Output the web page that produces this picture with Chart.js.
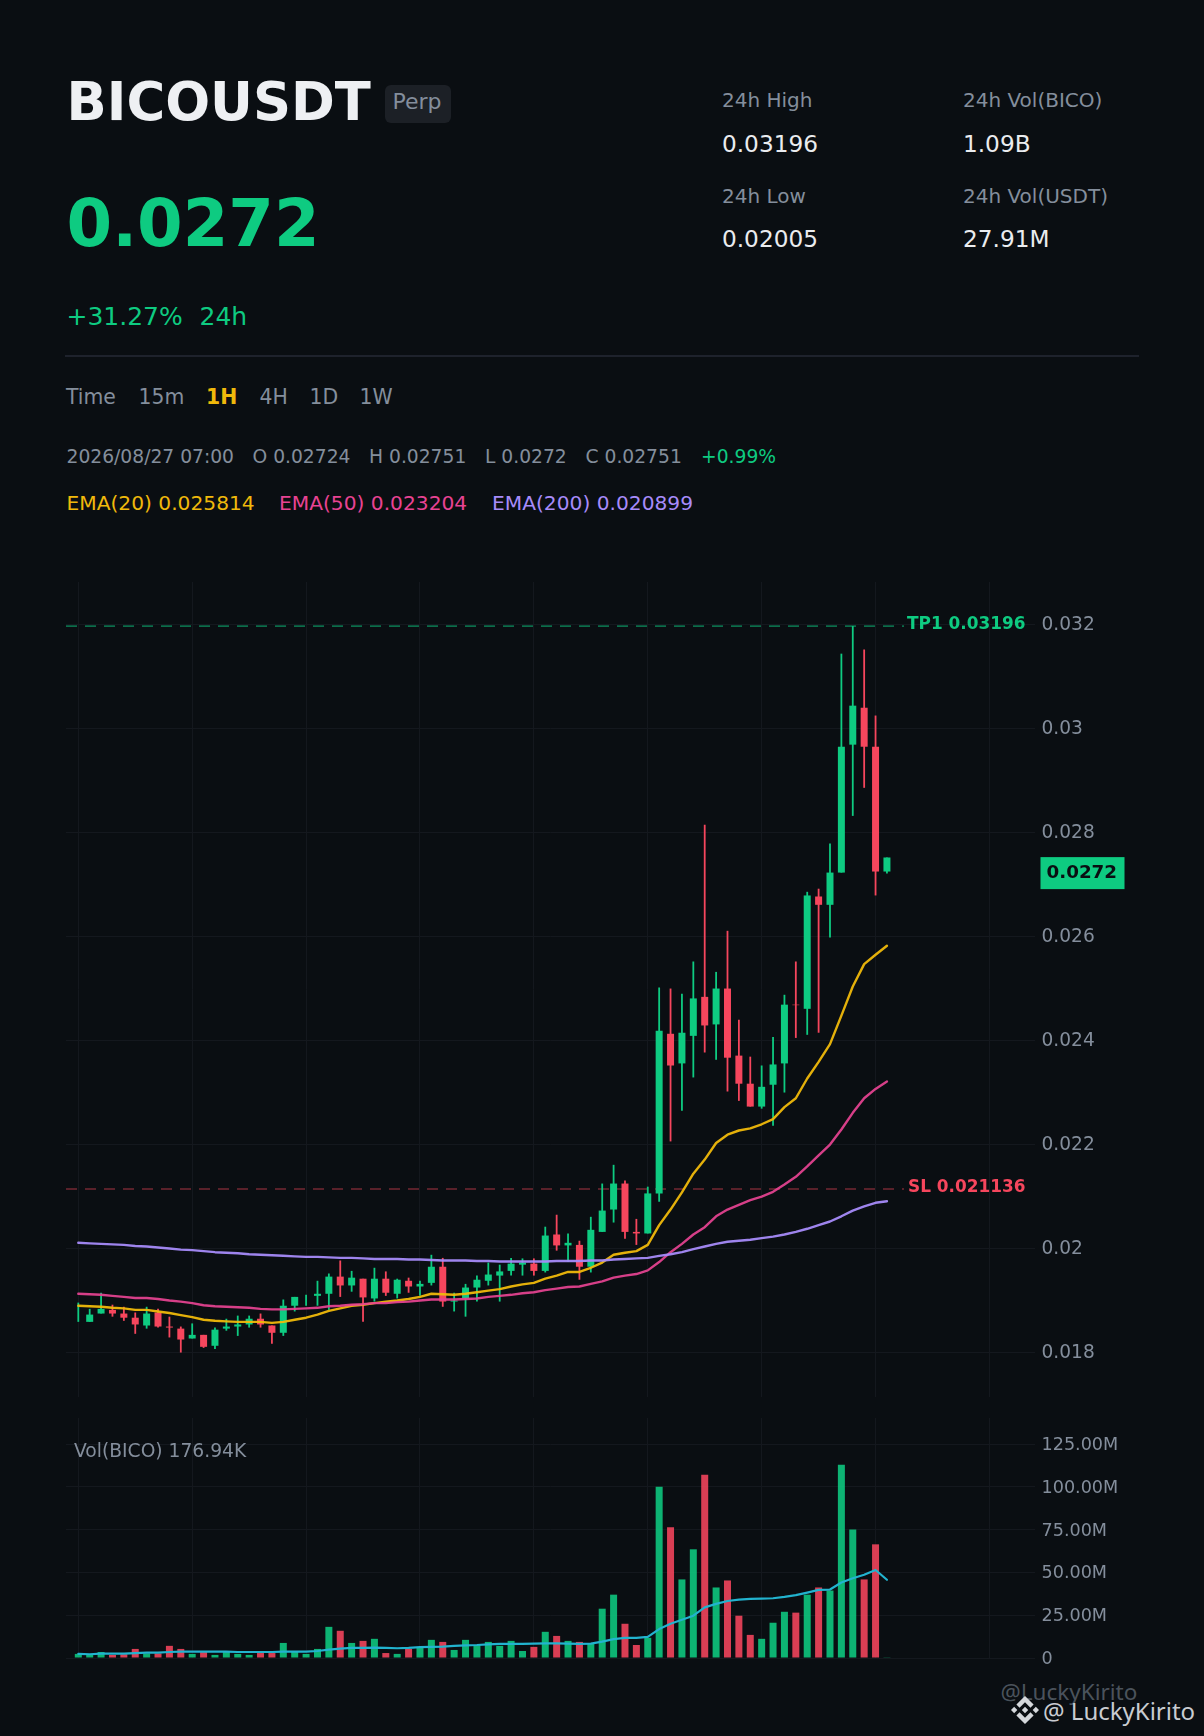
<!DOCTYPE html>
<html>
<head>
<meta charset="utf-8">
<title>BICOUSDT</title>
<script src="https://cdn.jsdelivr.net/npm/chart.js@4/dist/chart.umd.min.js"></script>
<style>
html,body{margin:0;padding:0;background:#0a0e12;}
#page{position:relative;width:1204px;height:1736px;background:#0a0e12;overflow:hidden;font-family:"DejaVu Sans",sans-serif;}
.t{position:absolute;line-height:0;white-space:pre;color:#848e9c;}
.up{color:#0ecb81;}
.val{color:#eaecef;font-size:23.2px;}
.lab{font-size:20px;}
.tf{font-size:20.4px;top:397px;}
.row{font-size:18.7px;top:457px;}
.ema{font-size:20.2px;top:503px;}
canvas{position:absolute;left:0;}
#sep{position:absolute;left:65px;top:355px;width:1074px;height:2px;background:#1e222c;}
#tag{position:absolute;left:385px;top:84.5px;width:66px;height:38px;background:#1c2026;border-radius:6px;}
</style>
</head>
<body>
<div id="page">
  <div class="t" style="left:66.5px;top:102px;font-size:52.8px;font-weight:700;color:#eef0f3;">BICOUSDT</div>
  <div id="tag"></div>
  <div class="t" style="left:392.5px;top:102px;font-size:22px;">Perp</div>
  <div class="t up" style="left:66.5px;top:223px;font-size:65.6px;font-weight:700;">0.0272</div>
  <div class="t up" style="left:66.5px;top:317px;font-size:25px;">+31.27%</div>
  <div class="t up" style="left:199.5px;top:317px;font-size:25px;">24h</div>

  <div class="t lab" style="left:722px;top:100px;">24h High</div>
  <div class="t val" style="left:722px;top:143.5px;">0.03196</div>
  <div class="t lab" style="left:722px;top:196px;">24h Low</div>
  <div class="t val" style="left:722px;top:238.5px;">0.02005</div>
  <div class="t lab" style="left:963px;top:100px;">24h Vol(BICO)</div>
  <div class="t val" style="left:963px;top:143.5px;">1.09B</div>
  <div class="t lab" style="left:963px;top:196px;">24h Vol(USDT)</div>
  <div class="t val" style="left:963px;top:238.5px;">27.91M</div>

  <div id="sep"></div>

  <div class="t tf" style="left:66px;">Time</div>
  <div class="t tf" style="left:138.5px;">15m</div>
  <div class="t tf" style="left:206px;color:#f0b90b;font-weight:700;">1H</div>
  <div class="t tf" style="left:259.5px;">4H</div>
  <div class="t tf" style="left:309.5px;">1D</div>
  <div class="t tf" style="left:359.5px;">1W</div>

  <div class="t row" style="left:66.5px;">2026/08/27 07:00</div>
  <div class="t row" style="left:252.5px;">O 0.02724</div>
  <div class="t row" style="left:369px;">H 0.02751</div>
  <div class="t row" style="left:485px;">L 0.0272</div>
  <div class="t row" style="left:585.5px;">C 0.02751</div>
  <div class="t row up" style="left:701px;">+0.99%</div>

  <div class="t ema" style="left:66.5px;color:#f0b90b;">EMA(20) 0.025814</div>
  <div class="t ema" style="left:279px;color:#e84393;">EMA(50) 0.023204</div>
  <div class="t ema" style="left:492px;color:#a78bfa;">EMA(200) 0.020899</div>

  <canvas id="price" width="1204" height="840" style="top:570px;"></canvas>
  <canvas id="vol" width="1204" height="270" style="top:1405px;"></canvas>
  <div class="t" style="left:74px;top:1450.5px;font-size:18.7px;">Vol(BICO) 176.94K</div>

  <div class="t" style="left:1000.5px;top:1692px;font-family:'Noto Sans';font-size:22.5px;color:rgba(132,142,156,.55);">@LuckyKirito</div>
  <svg style="position:absolute;left:1011px;top:1696px;" width="28" height="28" viewBox="0 0 126.61 126.61" fill="#d5d8dc">
    <path d="M38.73 53.2l24.59-24.58 24.6 24.6 14.3-14.31L63.32 0 24.43 38.9z"/>
    <path d="M0 63.31l14.3-14.31 14.31 14.31-14.31 14.3z"/>
    <path d="M38.73 73.41l24.59 24.59 24.6-24.6 14.31 14.29-38.9 38.91-38.91-38.88-.01-.01z"/>
    <path d="M98 63.31l14.3-14.31 14.31 14.3-14.31 14.32z"/>
    <path d="M77.83 63.3L63.32 48.78 52.59 59.51l-1.24 1.23-2.54 2.54 14.51 14.52 14.51-14.47z"/>
  </svg>
  <div class="t" style="left:1043px;top:1711px;font-family:'Noto Sans';font-size:24px;color:#c9ccd1;">@ LuckyKirito</div>
</div>

<script>
const opens = [.01889,.01858,.01874,.01881,.01874,.01866,.01851,.01876,.01849,.01845,.01826,.01833,.01812,.01845,.01849,.01853,.01864,.01851,.01837,.01889,.01889,.01908,.01912,.01945,.01928,.01941,.01903,.01941,.01912,.01937,.01926,.01933,.01964,.01897,.01903,.01924,.01937,.01947,.01956,.01968,.0197,.01956,.02026,.02005,.02006,.01964,.02031,.02074,.02124,.02031,.02028,.02105,.02412,.02355,.02408,.02483,.0243,.02499,.0237,.02316,.02272,.02314,.02355,.02468,.0246,.02676,.0266,.02722,.02968,.03039,.02964,.02724];
const highs = [.01895,.01883,.01914,.01891,.01887,.01876,.01887,.01883,.01868,.01849,.01855,.01833,.01847,.01864,.0187,.0187,.01874,.01851,.01901,.01906,.0191,.01937,.01951,.01976,.01956,.01941,.01962,.01955,.01941,.01943,.01937,.01987,.01981,.01914,.01931,.01947,.01972,.01968,.01981,.0198,.0198,.02041,.02064,.02028,.02014,.0206,.02124,.0216,.0213,.02056,.02118,.02501,.02499,.02489,.02551,.02814,.02531,.0261,.02439,.02368,.02351,.02406,.02487,.02551,.02685,.02691,.02778,.03143,.03196,.03151,.03024,.02751];
const lows = [.01858,.01858,.01874,.01868,.0186,.01835,.01845,.01847,.01828,.01799,.01826,.01808,.01806,.01841,.01831,.01847,.01847,.01816,.01831,.01878,.01889,.01889,.01881,.01906,.01916,.01858,.01897,.01908,.01903,.01914,.01908,.01928,.01887,.01878,.01868,.01897,.01928,.01897,.01947,.01947,.01947,.01953,.01995,.01973,.01939,.01953,.02031,.02049,.02018,.02006,.02028,.02089,.02205,.02264,.02328,.02376,.02362,.02301,.02283,.02272,.02268,.02235,.02299,.02404,.0241,.02414,.02597,.02722,.02831,.02885,.02678,.0272];
const closes = [.01889,.01872,.01883,.01874,.01866,.01853,.01874,.01849,.01847,.01824,.01833,.0181,.01843,.01849,.01853,.01864,.01853,.01837,.01889,.01906,.01889,.01912,.01945,.01928,.01943,.01905,.01941,.01914,.01939,.01926,.01931,.01964,.01897,.01899,.01924,.01939,.01949,.01955,.0197,.01972,.01956,.02024,.02005,.0201,.01964,.02035,.02072,.02124,.02031,.02028,.02105,.02418,.02351,.02414,.0248,.02428,.02499,.02366,.02316,.02272,.0231,.02353,.02468,.02467,.02678,.0266,.02722,.02964,.03043,.02964,.02724,.02751];

const ema20 = [.01889,.01888,.01887,.01885,.01884,.01881,.01881,.01878,.01875,.01871,.01867,.01862,.0186,.01859,.01858,.01858,.01858,.01856,.01858,.01862,.01866,.01872,.01879,.01884,.01889,.01891,.01894,.01897,.01899,.01902,.01906,.01912,.01911,.0191,.01912,.01915,.01918,.01921,.01926,.0193,.01933,.01941,.01947,.01954,.01954,.01962,.01972,.01987,.01991,.01994,.02006,.02044,.02074,.02107,.02143,.0217,.02202,.02218,.02226,.0223,.02238,.02248,.02271,.02288,.02326,.02358,.02392,.02447,.02503,.02546,.02564,.025814];
const ema50 = [.01912,.01911,.0191,.01908,.01906,.01904,.01904,.01902,.01899,.01897,.01894,.0189,.01888,.01887,.01886,.01885,.01883,.01882,.01882,.01883,.01884,.01885,.01888,.01889,.01891,.01892,.01894,.01894,.01896,.01897,.01899,.01901,.01901,.01901,.01902,.01903,.01906,.01908,.0191,.01913,.01915,.01919,.01922,.01925,.01926,.01931,.01936,.01943,.01947,.0195,.01957,.01973,.01992,.02008,.02026,.0204,.02061,.02074,.02083,.02092,.02099,.02108,.02122,.02137,.02157,.02178,.02199,.02228,.0226,.02288,.02306,.023204];
const ema200 = [.0201,.02009,.02008,.02007,.02006,.02004,.02003,.02001,.01999,.01997,.01996,.01994,.01992,.01991,.0199,.01988,.01987,.01986,.01985,.01984,.01983,.01983,.01982,.01981,.01981,.0198,.01979,.01979,.01979,.01978,.01978,.01977,.01976,.01976,.01976,.01975,.01975,.01974,.01974,.01974,.01974,.01974,.01975,.01975,.01975,.01976,.01976,.01978,.01979,.0198,.01981,.01985,.01988,.01992,.01998,.02003,.02008,.02012,.02014,.02016,.02019,.02022,.02026,.02031,.02037,.02044,.02051,.02061,.02072,.0208,.02087,.020899];

// volume in millions
const volumes = [2.4,2.0,3.5,1.8,2.2,5.3,2.7,2.7,7.1,5.3,2.4,3.5,1.8,3.5,2.4,1.8,2.9,2.9,8.8,3.5,2.4,5.3,18.2,15.9,8.8,10,11.2,2.9,2.4,5.3,5.9,10.6,9.4,4.7,10.6,7.6,9.4,7.1,10,4.1,6.5,15.3,12.9,10,9.4,8.2,28.8,37,20,7.6,11.8,100,76.4,45.9,63.5,107,41.2,45.3,24.7,13.5,11.2,20.6,27,26.5,37,41.2,39.4,112.9,75,45.9,66.4,0.18];
const volMa = [2.4,2.2,2.5,2.5,2.5,2.9,3.1,3.1,3.5,3.7,3.7,3.7,3.7,3.7,3.5,3.5,3.5,3.5,3.7,3.7,3.7,4.1,4.9,5.5,5.9,5.9,6.1,5.9,5.7,5.9,6.3,6.5,6.7,7.1,7.4,7.6,8,8.2,8.2,8.2,8.4,8.6,8.6,8.4,8.2,8.4,9.6,11,11.8,11.8,12.3,16.9,20,22.3,24.7,29.6,31.6,33.3,34.1,34.5,34.7,34.9,35.7,36.7,38.2,39.8,40,44.1,46.6,48.6,51.4,45.7];

const tp1 = 0.03196, sl = 0.021136, lastPrice = 0.0272;
const levelSpan = [-1.08, 72.5];

const GREEN='#0ecb81', RED='#f6465d', GRID='#14181e', TICK='#848e9c', FONT='"DejaVu Sans"';
const idx = opens.map((_,i)=>i);
const isUp = i => closes[i] >= opens[i];
const candleColors = idx.map(i=> isUp(i)?GREEN:RED);
const volColors = idx.map(i=> isUp(i)?'rgba(14,203,129,.88)':'rgba(246,70,93,.88)');

const xAxis = {type:'linear', min:-1.08, max:84, offset:false,
  grid:{color:GRID, lineWidth:1, offset:false, drawTicks:false}, border:{display:false},
  ticks:{display:false, stepSize:10, includeBounds:false, autoSkip:false}};

function yAxis(min, max, step, size, fmt){
  return {position:'right', offset:false, min, max,
    grid:{color:GRID, lineWidth:1, drawTicks:false}, border:{display:false},
    // keep the plot box fixed: no extra room for the tick labels
    afterFit(s){ s.width = 169; s.paddingTop = 0; s.paddingBottom = 0; },
    ticks:{color:TICK, padding:6.5, labelOffset:1.5, autoSkip:false, includeBounds:false, stepSize:step, crossAlign:'near',
      font:{family:FONT, size}, callback:fmt}};
}

function line(data, color, width){
  return {type:'line', data:data.map((y,i)=>({x:i,y})), borderColor:color, borderWidth:width||2.4,
    pointRadius:0, tension:0, order:1, borderJoinStyle:'round', borderCapStyle:'round'};
}
function level(v, color){
  return {type:'line', data:levelSpan.map(x=>({x,y:v})), borderColor:color, borderWidth:1.6,
    borderDash:[11,8], pointRadius:0, order:4};
}

const priceTags = {id:'priceTags', afterDatasetsDraw(c){
  const g=c.ctx, y=c.scales.y;
  g.save();
  g.textBaseline='middle'; g.textAlign='left';
  g.font='bold 16.9px '+FONT;
  g.fillStyle=GREEN; g.fillText('TP1 '+tp1, 907, y.getPixelForValue(tp1)-1);
  g.fillStyle=RED; g.fillText('SL '+sl, 908, y.getPixelForValue(sl)-1);
  const py=y.getPixelForValue(lastPrice);
  g.fillStyle=GREEN; g.fillRect(1040.5, py-16.5, 84, 32);
  g.fillStyle='#0a0e12'; g.font='bold 18.3px '+FONT;
  g.fillText(String(lastPrice), 1046.5, py-0.5);
  g.restore();
}};

new Chart(document.getElementById('price'), {
  type:'bar',
  data:{datasets:[
    level(tp1,'rgba(14,203,129,.5)'),
    level(sl,'rgba(246,70,93,.45)'),
    {data:idx.map(i=>({x:i,y:[lows[i],highs[i]]})), backgroundColor:candleColors, barThickness:1.8, grouped:false, inflateAmount:0, order:3},
    {data:idx.map(i=>({x:i,y:[Math.min(opens[i],closes[i]),Math.max(opens[i],closes[i])]})), backgroundColor:candleColors, barThickness:7, grouped:false, inflateAmount:0, order:2},
    line(ema200,'rgba(167,139,250,.95)'),
    line(ema50,'rgba(232,67,147,.92)'),
    line(ema20,'rgba(240,185,11,.95)')
  ]},
  options:{responsive:false, animation:false, events:[],
    layout:{padding:{left:66,top:12,bottom:13,right:0}},
    plugins:{legend:{display:false},tooltip:{enabled:false}},
    scales:{x:xAxis,
      y:yAxis(0.017135, 0.032808, 0.002, 18.6, v=>String(+v.toFixed(3)))}
  },
  plugins:[priceTags]
});

new Chart(document.getElementById('vol'), {
  type:'bar',
  data:{datasets:[
    {data:idx.map(i=>({x:i,y:volumes[i]})), backgroundColor:volColors, barThickness:7, grouped:false, inflateAmount:0, order:2},
    line(volMa,'#22b3cf',2.2)
  ]},
  options:{responsive:false, animation:false, events:[],
    layout:{padding:{left:66,top:13,bottom:17,right:0}},
    plugins:{legend:{display:false},tooltip:{enabled:false}},
    scales:{x:xAxis, y:yAxis(0, 140.2, 25, 17.6, v=> v===0 ? '0' : v.toFixed(2)+'M')}
  }
});
</script>
</body>
</html>
